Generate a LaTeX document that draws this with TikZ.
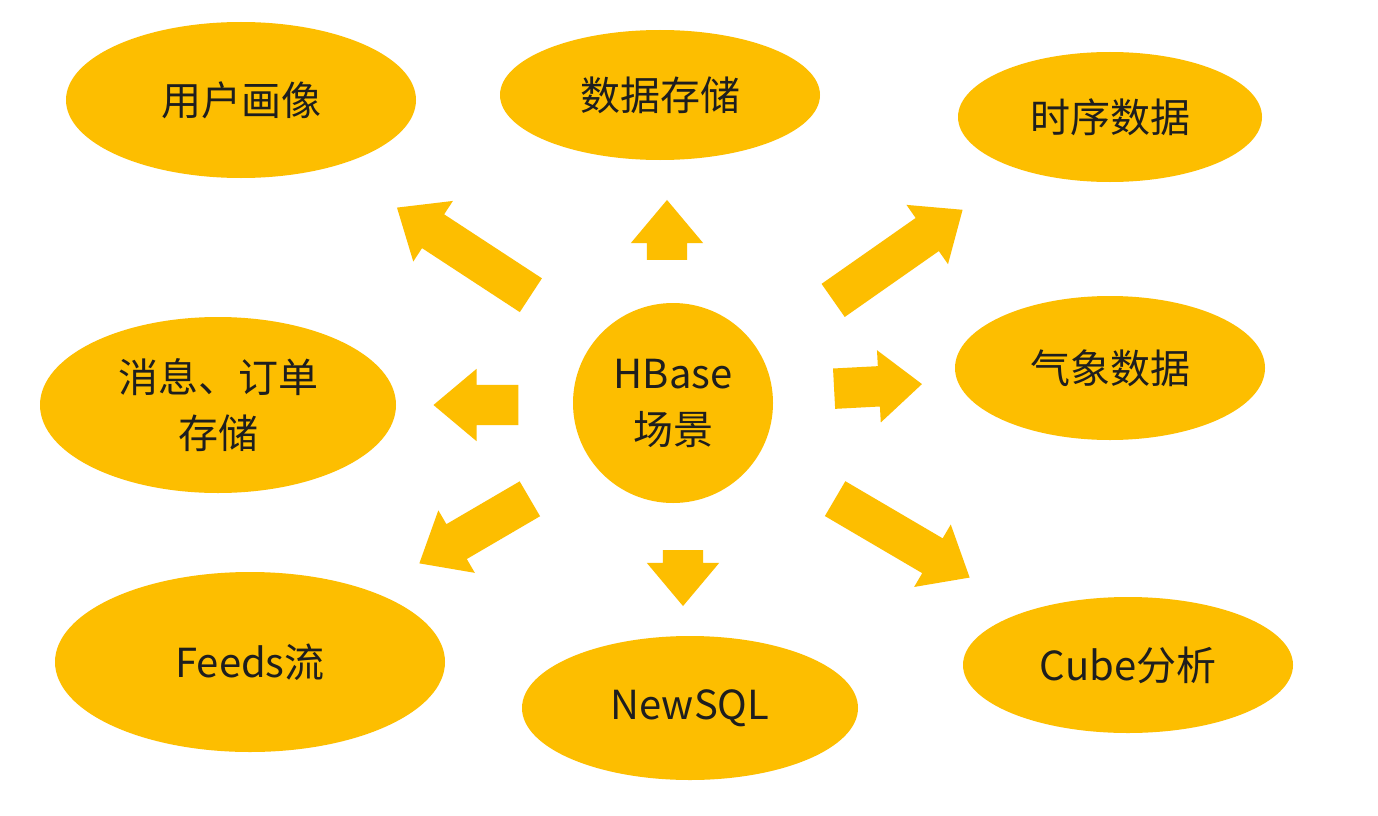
\documentclass[tikz,border=0pt]{standalone}
\usepackage{fontspec}
\setmainfont{Noto Sans CJK SC}
\usetikzlibrary{shapes.arrows}
\definecolor{gold}{RGB}{253,190,0}
\definecolor{txt}{RGB}{30,30,30}
\begin{document}
\begin{tikzpicture}[x=1pt,y=-1pt,
  arr/.style={single arrow,fill=gold,draw=none,inner xsep=0pt,inner ysep=20pt,single arrow head extend=16pt,single arrow head indent=0pt,single arrow tip angle=80},
  lbl/.style={align=center,text=txt,font=\fontsize{40}{56}\selectfont}]
\useasboundingbox (0,0) rectangle (1378,816);
\fill[white] (0,0) rectangle (1378,816);
\fill[gold] (241,100) ellipse [x radius=175,y radius=78];
\fill[gold] (660,95) ellipse [x radius=160,y radius=65];
\fill[gold] (1110,117) ellipse [x radius=152,y radius=65];
\fill[gold] (218,405) ellipse [x radius=178,y radius=88];
\fill[gold] (1110,368) ellipse [x radius=155,y radius=72];
\fill[gold] (250,662) ellipse [x radius=195,y radius=90];
\fill[gold] (690,708) ellipse [x radius=168,y radius=72];
\fill[gold] (1128,665) ellipse [x radius=165,y radius=68];
\fill[gold] (673,403) circle [radius=100];
\node[lbl] (a) at (241,100) {用户画像};
\node[lbl] (b) at (660,95) {数据存储};
\node[lbl] (c) at (1110,117) {时序数据};
\node[lbl] (d) at (218,405) {消息、订单\\存储};
\node[lbl] (e) at (1110,368) {气象数据};
\node[lbl] (f) at (250,662) {Feeds流};
\node[lbl] (g) at (690,708) {NewSQL};
\node[lbl] (h) at (1128,665) {Cube分析};
\node[lbl] (hb) at (673,403) {HBase\\场景};
\node[arr,minimum height=160pt,rotate=146.8] (ua) at (474,258) {};
\node[arr,minimum height=60pt,rotate=90] (ub) at (667,242) {};
\node[arr,minimum height=158pt,rotate=35] (uc) at (888,262) {};
\node[arr,minimum height=85pt,rotate=180] (ud) at (488,405) {};
\node[arr,minimum height=88pt,rotate=3] (ue) at (866,387) {};
\node[arr,minimum height=128pt,rotate=210.3] (uf) at (485,525) {};
\node[arr,minimum height=56pt,rotate=270] (ug) at (683,566) {};
\node[arr,minimum height=156pt,rotate=-30.4] (uh) at (892,532) {};
\end{tikzpicture}
\end{document}
